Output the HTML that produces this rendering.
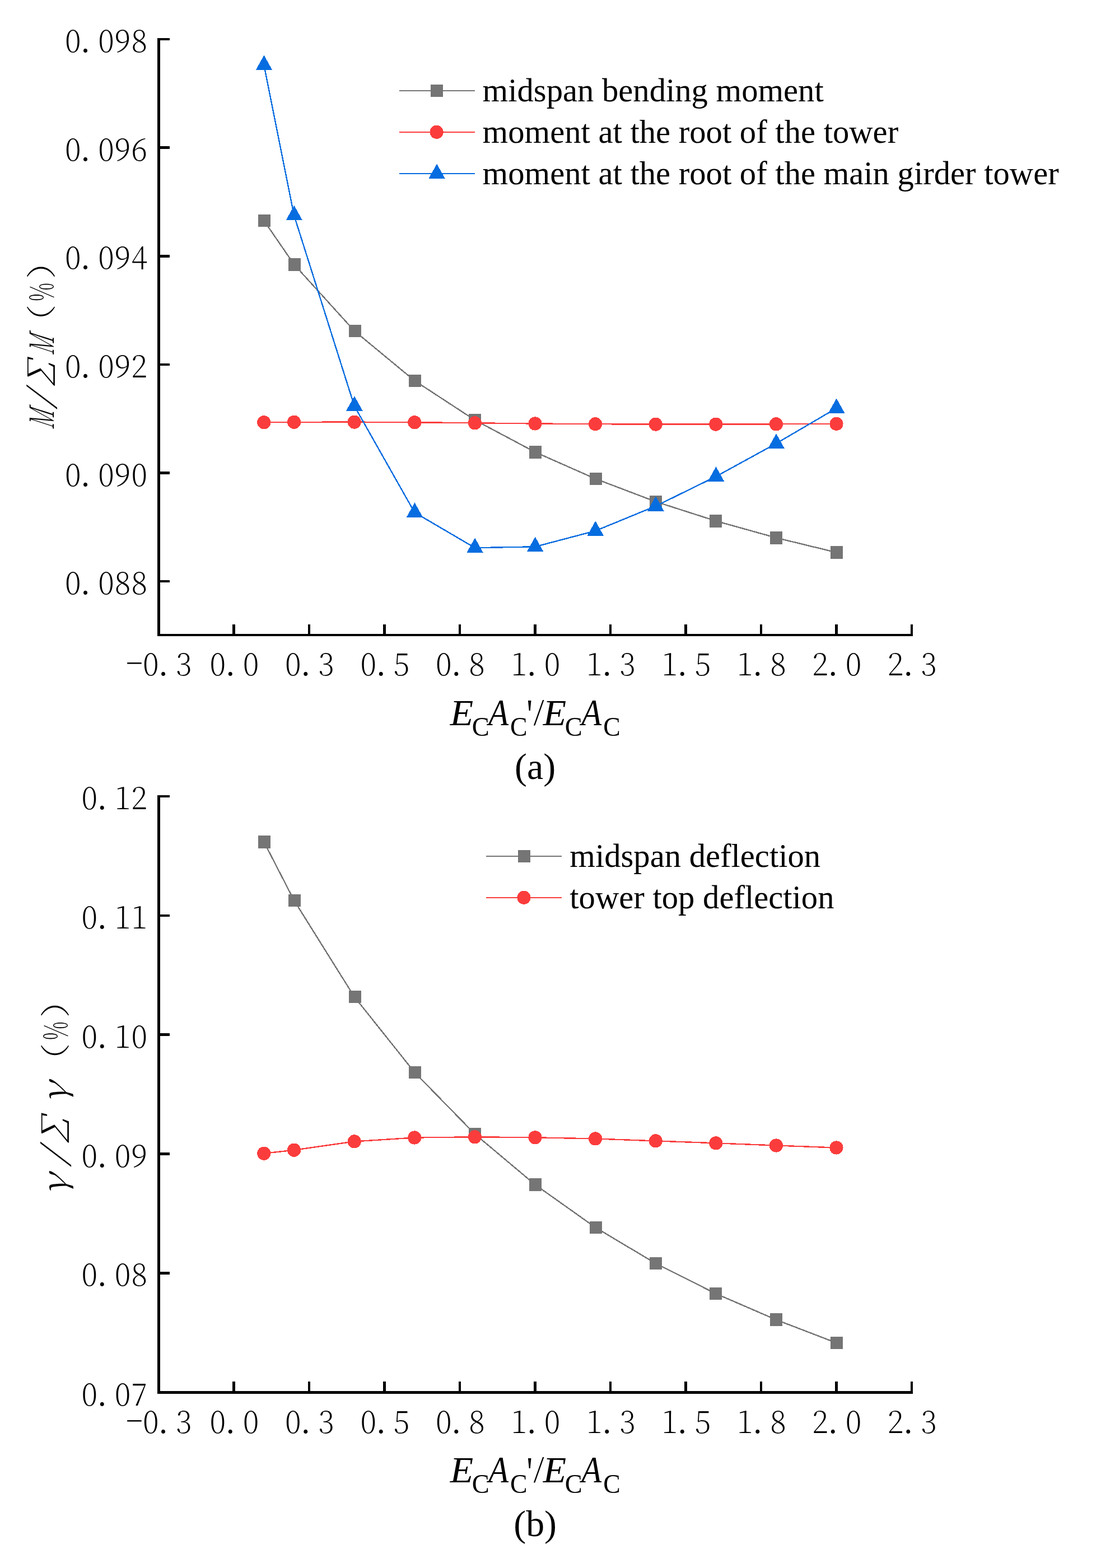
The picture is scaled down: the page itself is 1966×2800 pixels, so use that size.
<!DOCTYPE html>
<html lang="en">
<head>
<meta charset="utf-8">
<title>Figure</title>
<style>html,body{margin:0;padding:0;background:#fff;}svg{display:block;}text{white-space:pre;}</style>
</head>
<body>
<svg width="1966" height="2800" viewBox="0 0 1966 2800" shape-rendering="crispEdges">
<rect x="0" y="0" width="1966" height="2800" fill="#fff"/>
<g id="chart-a">
<rect x="281.2" y="68.1" width="5" height="1068" fill="#000"/>
<rect x="281.2" y="1131.5" width="1349" height="4.6" fill="#000"/>
<rect x="281.2" y="68.1" width="22" height="4.2" fill="#000"/>
<rect x="281.2" y="261.44" width="22" height="4.6" fill="#000"/>
<rect x="281.2" y="454.98" width="22" height="4.6" fill="#000"/>
<rect x="281.2" y="648.52" width="22" height="4.6" fill="#000"/>
<rect x="281.2" y="842.06" width="22" height="4.6" fill="#000"/>
<rect x="281.2" y="1035.6" width="22" height="4.6" fill="#000"/>
<rect x="415.2" y="1114.8" width="4.6" height="19" fill="#000"/>
<rect x="549.7" y="1114.8" width="4.6" height="19" fill="#000"/>
<rect x="684.2" y="1114.8" width="4.6" height="19" fill="#000"/>
<rect x="818.7" y="1114.8" width="4.6" height="19" fill="#000"/>
<rect x="953.2" y="1114.8" width="4.6" height="19" fill="#000"/>
<rect x="1087.7" y="1114.8" width="4.6" height="19" fill="#000"/>
<rect x="1222.2" y="1114.8" width="4.6" height="19" fill="#000"/>
<rect x="1356.7" y="1114.8" width="4.6" height="19" fill="#000"/>
<rect x="1491.2" y="1114.8" width="4.6" height="19" fill="#000"/>
<rect x="1625.7" y="1114.8" width="4.6" height="19" fill="#000"/>
<g font-family="'Noto Serif CJK SC', 'Liberation Serif', serif" font-weight="200" font-size="100" fill="#000" style="font-kerning:none">
<text aria-label="0.098" transform="translate(116.02,93.4) scale(0.5349,0.5636)" dx="0 -4.7 22.6 1.9 1.9">0<tspan font-size="121.9">.</tspan>098</text>
<text aria-label="0.096" transform="translate(116.02,286.94) scale(0.5349,0.5636)" dx="0 -4.7 22.6 1.9 1.9">0<tspan font-size="121.9">.</tspan>096</text>
<text aria-label="0.094" transform="translate(116.02,480.48) scale(0.5349,0.5636)" dx="0 -4.7 22.6 1.9 1.9">0<tspan font-size="121.9">.</tspan>094</text>
<text aria-label="0.092" transform="translate(116.02,674.02) scale(0.5349,0.5636)" dx="0 -4.7 22.6 1.9 1.9">0<tspan font-size="121.9">.</tspan>092</text>
<text aria-label="0.090" transform="translate(116.02,867.56) scale(0.5349,0.5636)" dx="0 -4.7 22.6 1.9 1.9">0<tspan font-size="121.9">.</tspan>090</text>
<text aria-label="0.088" transform="translate(116.02,1061.1) scale(0.5349,0.5636)" dx="0 -4.7 22.6 1.9 1.9">0<tspan font-size="121.9">.</tspan>088</text>
</g>
<g font-family="'Noto Serif CJK SC', 'Liberation Serif', serif" font-weight="200" font-size="100" fill="#000" style="font-kerning:none">
<text aria-label="-0.3" transform="translate(222.65,1206.3) scale(0.5349,0.5636)" dx="0 -4 -4.7 22.6" dy="-12.4 12.4 0 0"><tspan textLength="64.3" lengthAdjust="spacingAndGlyphs">-</tspan>0<tspan font-size="121.9">.</tspan>3</text>
<text aria-label="0.0" transform="translate(374.62,1206.3) scale(0.5349,0.5636)" dx="0 -4.7 22.6">0<tspan font-size="121.9">.</tspan>0</text>
<text aria-label="0.3" transform="translate(509.12,1206.3) scale(0.5349,0.5636)" dx="0 -4.7 22.6">0<tspan font-size="121.9">.</tspan>3</text>
<text aria-label="0.5" transform="translate(643.62,1206.3) scale(0.5349,0.5636)" dx="0 -4.7 22.6">0<tspan font-size="121.9">.</tspan>5</text>
<text aria-label="0.8" transform="translate(778.12,1206.3) scale(0.5349,0.5636)" dx="0 -4.7 22.6">0<tspan font-size="121.9">.</tspan>8</text>
<text aria-label="1.0" transform="translate(912.62,1206.3) scale(0.5349,0.5636)" dx="0 -4.7 22.6">1<tspan font-size="121.9">.</tspan>0</text>
<text aria-label="1.3" transform="translate(1047.12,1206.3) scale(0.5349,0.5636)" dx="0 -4.7 22.6">1<tspan font-size="121.9">.</tspan>3</text>
<text aria-label="1.5" transform="translate(1181.62,1206.3) scale(0.5349,0.5636)" dx="0 -4.7 22.6">1<tspan font-size="121.9">.</tspan>5</text>
<text aria-label="1.8" transform="translate(1316.12,1206.3) scale(0.5349,0.5636)" dx="0 -4.7 22.6">1<tspan font-size="121.9">.</tspan>8</text>
<text aria-label="2.0" transform="translate(1450.62,1206.3) scale(0.5349,0.5636)" dx="0 -4.7 22.6">2<tspan font-size="121.9">.</tspan>0</text>
<text aria-label="2.3" transform="translate(1585.12,1206.3) scale(0.5349,0.5636)" dx="0 -4.7 22.6">2<tspan font-size="121.9">.</tspan>3</text>
</g>
<polyline points="471.3,393.9 525.1,472.2 632.7,590.8 740.3,679.8 847.9,750.1 955.5,807.3 1063.1,854.9 1170.7,895.8 1278.3,930.3 1385.9,960.3 1493.5,986.5" fill="none" stroke="#757575" stroke-width="2.4" stroke-linejoin="round"/>
<rect x="461" y="382.6" width="22" height="22.6" fill="#757575"/>
<rect x="515" y="460.9" width="22" height="22.6" fill="#757575"/>
<rect x="623" y="579.5" width="22" height="22.6" fill="#757575"/>
<rect x="730" y="668.5" width="22" height="22.6" fill="#757575"/>
<rect x="837" y="738.8" width="22" height="22.6" fill="#757575"/>
<rect x="945" y="796" width="22" height="22.6" fill="#757575"/>
<rect x="1053" y="843.6" width="22" height="22.6" fill="#757575"/>
<rect x="1160" y="884.5" width="22" height="22.6" fill="#757575"/>
<rect x="1267" y="919" width="22" height="22.6" fill="#757575"/>
<rect x="1375" y="949" width="22" height="22.6" fill="#757575"/>
<rect x="1483" y="975.2" width="22" height="22.6" fill="#757575"/>
<polyline points="471.3,754.2 525.1,753.8 632.7,753.6 740.3,754.2 847.9,755.3 955.5,756.5 1063.1,757.2 1170.7,757.6 1278.3,757.6 1385.9,757.3 1493.5,756.8" fill="none" stroke="#FB3C3C" stroke-width="2.4" stroke-linejoin="round"/>
<circle cx="471.3" cy="754.2" r="12.1" fill="#FB3C3C"/>
<circle cx="525.1" cy="753.8" r="12.1" fill="#FB3C3C"/>
<circle cx="632.7" cy="753.6" r="12.1" fill="#FB3C3C"/>
<circle cx="740.3" cy="754.2" r="12.1" fill="#FB3C3C"/>
<circle cx="847.9" cy="755.3" r="12.1" fill="#FB3C3C"/>
<circle cx="955.5" cy="756.5" r="12.1" fill="#FB3C3C"/>
<circle cx="1063.1" cy="757.2" r="12.1" fill="#FB3C3C"/>
<circle cx="1170.7" cy="757.6" r="12.1" fill="#FB3C3C"/>
<circle cx="1278.3" cy="757.6" r="12.1" fill="#FB3C3C"/>
<circle cx="1385.9" cy="757.3" r="12.1" fill="#FB3C3C"/>
<circle cx="1493.5" cy="756.8" r="12.1" fill="#FB3C3C"/>
<polyline points="471.3,116.3 525.1,384.6 632.7,724.9 740.3,915.1 847.9,978.2 955.5,976.3 1063.1,948 1170.7,903.8 1278.3,851 1385.9,792 1493.5,729" fill="none" stroke="#066DE0" stroke-width="2.4" stroke-linejoin="round"/>
<polygon points="471.5,98.6 456.7,125 486.2,125" fill="#066DE0"/>
<polygon points="525.3,366.9 510.5,393.3 540,393.3" fill="#066DE0"/>
<polygon points="632.9,707.2 618.1,733.6 647.6,733.6" fill="#066DE0"/>
<polygon points="740.5,897.4 725.7,923.8 755.2,923.8" fill="#066DE0"/>
<polygon points="848.1,960.5 833.3,986.9 862.8,986.9" fill="#066DE0"/>
<polygon points="955.7,958.6 940.9,985 970.4,985" fill="#066DE0"/>
<polygon points="1063.3,930.3 1048.5,956.7 1078,956.7" fill="#066DE0"/>
<polygon points="1170.9,886.1 1156.1,912.5 1185.6,912.5" fill="#066DE0"/>
<polygon points="1278.5,833.3 1263.7,859.7 1293.2,859.7" fill="#066DE0"/>
<polygon points="1386.1,774.3 1371.3,800.7 1400.8,800.7" fill="#066DE0"/>
<polygon points="1493.7,711.3 1478.9,737.7 1508.4,737.7" fill="#066DE0"/>
<rect x="712.8" y="161" width="134.7" height="2" fill="#757575"/>
<rect x="769" y="150.7" width="22" height="22.6" fill="#757575"/>
<text x="861.6" y="181.4" font-family="'Liberation Serif', 'Noto Serif CJK SC', serif" font-size="58.65" fill="#000">midspan bending moment</text>
<rect x="712.8" y="234.8" width="134.7" height="2" fill="#FB3C3C"/>
<circle cx="779.6" cy="235.8" r="12.1" fill="#FB3C3C"/>
<text x="861.6" y="255.2" font-family="'Liberation Serif', 'Noto Serif CJK SC', serif" font-size="58.65" fill="#000">moment at the root of the tower</text>
<rect x="712.8" y="308.8" width="134.7" height="2" fill="#066DE0"/>
<polygon points="780.1,292.6 765.3,319 794.8,319" fill="#066DE0"/>
<text x="861.6" y="329.2" font-family="'Liberation Serif', 'Noto Serif CJK SC', serif" font-size="58.65" fill="#000">moment at the root of the main girder tower</text>
<g aria-label="M/∑M（%）">
<text transform="translate(96.2,766) rotate(-90) skewX(-18)" font-family="'Noto Serif CJK SC', 'Liberation Serif', serif" fill="#000"><tspan x="-1.29" y="0" font-size="59.79" font-weight="200" textLength="33.12" lengthAdjust="spacingAndGlyphs">M</tspan><tspan x="36.47" y="-4.51" font-size="58.61" font-weight="200" textLength="27.32" lengthAdjust="spacingAndGlyphs">/</tspan><tspan x="63.12" y="-6.08" font-size="55.01" font-weight="200" textLength="66.57" lengthAdjust="spacingAndGlyphs">∑</tspan><tspan x="131.21" y="0" font-size="59.79" font-weight="200" textLength="33.12" lengthAdjust="spacingAndGlyphs">M</tspan></text>
<text transform="translate(96.2,570) rotate(-90)" font-family="'Noto Serif CJK SC', 'Liberation Serif', serif" fill="#000"><tspan x="-36.28" y="-2.36" font-size="53.66" font-weight="200" textLength="62.88" lengthAdjust="spacingAndGlyphs">（</tspan><tspan x="32.09" y="-1.46" font-size="58.48" font-weight="200" textLength="33.06" lengthAdjust="spacingAndGlyphs">%</tspan><tspan x="71.84" y="-2.36" font-size="53.66" font-weight="200" textLength="63.15" lengthAdjust="spacingAndGlyphs">）</tspan></text>
</g>
<text aria-label="ECAC'/ECAC" fill="#000"><tspan x="803.75" y="1294.8" font-family="'Liberation Serif', 'Noto Serif CJK SC', serif" font-weight="400" font-style="italic" font-size="65.5" textLength="41.43" lengthAdjust="spacingAndGlyphs">E</tspan><tspan x="842.74" y="1313.72" font-family="'Liberation Serif', 'Noto Serif CJK SC', serif" font-weight="400" font-size="48.33" textLength="30.99" lengthAdjust="spacingAndGlyphs">C</tspan><tspan x="872.13" y="1294.8" font-family="'Liberation Serif', 'Noto Serif CJK SC', serif" font-weight="400" font-style="italic" font-size="66.82" textLength="35.83" lengthAdjust="spacingAndGlyphs">A</tspan><tspan x="911.07" y="1313.72" font-family="'Liberation Serif', 'Noto Serif CJK SC', serif" font-weight="400" font-size="48.33" textLength="30.52" lengthAdjust="spacingAndGlyphs">C</tspan><tspan x="940.44" y="1301.35" font-family="'Liberation Serif', 'Noto Serif CJK SC', serif" font-weight="400" font-size="77.02" textLength="10.43" lengthAdjust="spacingAndGlyphs">'</tspan><tspan x="954.89" y="1294.12" font-family="'Liberation Serif', 'Noto Serif CJK SC', serif" font-weight="400" font-style="italic" font-size="68.06" textLength="12.93" lengthAdjust="spacingAndGlyphs">/</tspan><tspan x="969.85" y="1294.8" font-family="'Liberation Serif', 'Noto Serif CJK SC', serif" font-weight="400" font-style="italic" font-size="65.5" textLength="41.43" lengthAdjust="spacingAndGlyphs">E</tspan><tspan x="1008.84" y="1313.72" font-family="'Liberation Serif', 'Noto Serif CJK SC', serif" font-weight="400" font-size="48.33" textLength="30.99" lengthAdjust="spacingAndGlyphs">C</tspan><tspan x="1038.23" y="1294.8" font-family="'Liberation Serif', 'Noto Serif CJK SC', serif" font-weight="400" font-style="italic" font-size="66.82" textLength="35.83" lengthAdjust="spacingAndGlyphs">A</tspan><tspan x="1077.17" y="1313.72" font-family="'Liberation Serif', 'Noto Serif CJK SC', serif" font-weight="400" font-size="48.33" textLength="30.52" lengthAdjust="spacingAndGlyphs">C</tspan></text>
<text x="955.6" y="1390.8" font-family="'Liberation Serif', 'Noto Serif CJK SC', serif" font-size="65.8" text-anchor="middle" fill="#000">(a)</text>
</g>
<g id="chart-b">
<rect x="281.2" y="1419.9" width="5" height="1069.4" fill="#000"/>
<rect x="281.2" y="2483.7" width="1349" height="5.6" fill="#000"/>
<rect x="281.2" y="1419.9" width="22" height="4.2" fill="#000"/>
<rect x="281.2" y="1632.5" width="22" height="4.6" fill="#000"/>
<rect x="281.2" y="1845.3" width="22" height="4.6" fill="#000"/>
<rect x="281.2" y="2058.1" width="22" height="4.6" fill="#000"/>
<rect x="281.2" y="2270.9" width="22" height="4.6" fill="#000"/>
<rect x="415.2" y="2467" width="4.6" height="19" fill="#000"/>
<rect x="549.7" y="2467" width="4.6" height="19" fill="#000"/>
<rect x="684.2" y="2467" width="4.6" height="19" fill="#000"/>
<rect x="818.7" y="2467" width="4.6" height="19" fill="#000"/>
<rect x="953.2" y="2467" width="4.6" height="19" fill="#000"/>
<rect x="1087.7" y="2467" width="4.6" height="19" fill="#000"/>
<rect x="1222.2" y="2467" width="4.6" height="19" fill="#000"/>
<rect x="1356.7" y="2467" width="4.6" height="19" fill="#000"/>
<rect x="1491.2" y="2467" width="4.6" height="19" fill="#000"/>
<rect x="1625.7" y="2467" width="4.6" height="19" fill="#000"/>
<g font-family="'Noto Serif CJK SC', 'Liberation Serif', serif" font-weight="200" font-size="100" fill="#000" style="font-kerning:none">
<text aria-label="0.12" transform="translate(145.62,1445.2) scale(0.5349,0.5636)" dx="0 -4.7 22.6 1.9">0<tspan font-size="121.9">.</tspan>12</text>
<text aria-label="0.11" transform="translate(145.62,1658) scale(0.5349,0.5636)" dx="0 -4.7 22.6 1.9">0<tspan font-size="121.9">.</tspan>11</text>
<text aria-label="0.10" transform="translate(145.62,1870.8) scale(0.5349,0.5636)" dx="0 -4.7 22.6 1.9">0<tspan font-size="121.9">.</tspan>10</text>
<text aria-label="0.09" transform="translate(145.62,2083.6) scale(0.5349,0.5636)" dx="0 -4.7 22.6 1.9">0<tspan font-size="121.9">.</tspan>09</text>
<text aria-label="0.08" transform="translate(145.62,2296.4) scale(0.5349,0.5636)" dx="0 -4.7 22.6 1.9">0<tspan font-size="121.9">.</tspan>08</text>
<text aria-label="0.07" transform="translate(145.62,2510.2) scale(0.5349,0.5636)" dx="0 -4.7 22.6 1.9">0<tspan font-size="121.9">.</tspan>07</text>
</g>
<g font-family="'Noto Serif CJK SC', 'Liberation Serif', serif" font-weight="200" font-size="100" fill="#000" style="font-kerning:none">
<text aria-label="-0.3" transform="translate(222.65,2558.5) scale(0.5349,0.5636)" dx="0 -4 -4.7 22.6" dy="-12.4 12.4 0 0"><tspan textLength="64.3" lengthAdjust="spacingAndGlyphs">-</tspan>0<tspan font-size="121.9">.</tspan>3</text>
<text aria-label="0.0" transform="translate(374.62,2558.5) scale(0.5349,0.5636)" dx="0 -4.7 22.6">0<tspan font-size="121.9">.</tspan>0</text>
<text aria-label="0.3" transform="translate(509.12,2558.5) scale(0.5349,0.5636)" dx="0 -4.7 22.6">0<tspan font-size="121.9">.</tspan>3</text>
<text aria-label="0.5" transform="translate(643.62,2558.5) scale(0.5349,0.5636)" dx="0 -4.7 22.6">0<tspan font-size="121.9">.</tspan>5</text>
<text aria-label="0.8" transform="translate(778.12,2558.5) scale(0.5349,0.5636)" dx="0 -4.7 22.6">0<tspan font-size="121.9">.</tspan>8</text>
<text aria-label="1.0" transform="translate(912.62,2558.5) scale(0.5349,0.5636)" dx="0 -4.7 22.6">1<tspan font-size="121.9">.</tspan>0</text>
<text aria-label="1.3" transform="translate(1047.12,2558.5) scale(0.5349,0.5636)" dx="0 -4.7 22.6">1<tspan font-size="121.9">.</tspan>3</text>
<text aria-label="1.5" transform="translate(1181.62,2558.5) scale(0.5349,0.5636)" dx="0 -4.7 22.6">1<tspan font-size="121.9">.</tspan>5</text>
<text aria-label="1.8" transform="translate(1316.12,2558.5) scale(0.5349,0.5636)" dx="0 -4.7 22.6">1<tspan font-size="121.9">.</tspan>8</text>
<text aria-label="2.0" transform="translate(1450.62,2558.5) scale(0.5349,0.5636)" dx="0 -4.7 22.6">2<tspan font-size="121.9">.</tspan>0</text>
<text aria-label="2.3" transform="translate(1585.12,2558.5) scale(0.5349,0.5636)" dx="0 -4.7 22.6">2<tspan font-size="121.9">.</tspan>3</text>
</g>
<polyline points="471.3,1503.3 525.1,1607.9 632.7,1779.9 740.3,1914.9 847.9,2025 955.5,2115.4 1063.1,2191.8 1170.7,2256.1 1278.3,2310.1 1385.9,2356.7 1493.5,2398" fill="none" stroke="#757575" stroke-width="2.4" stroke-linejoin="round"/>
<rect x="461" y="1492" width="22" height="22.6" fill="#757575"/>
<rect x="515" y="1596.6" width="22" height="22.6" fill="#757575"/>
<rect x="623" y="1768.6" width="22" height="22.6" fill="#757575"/>
<rect x="730" y="1903.6" width="22" height="22.6" fill="#757575"/>
<rect x="837" y="2013.7" width="22" height="22.6" fill="#757575"/>
<rect x="945" y="2104.1" width="22" height="22.6" fill="#757575"/>
<rect x="1053" y="2180.5" width="22" height="22.6" fill="#757575"/>
<rect x="1160" y="2244.8" width="22" height="22.6" fill="#757575"/>
<rect x="1267" y="2298.8" width="22" height="22.6" fill="#757575"/>
<rect x="1375" y="2345.4" width="22" height="22.6" fill="#757575"/>
<rect x="1483" y="2386.7" width="22" height="22.6" fill="#757575"/>
<polyline points="471.3,2059.7 525.1,2053.7 632.7,2038.4 740.3,2031.5 847.9,2030.3 955.5,2031.3 1063.1,2033.4 1170.7,2037.4 1278.3,2041.3 1385.9,2045.5 1493.5,2049.5" fill="none" stroke="#FB3C3C" stroke-width="2.4" stroke-linejoin="round"/>
<circle cx="471.3" cy="2059.7" r="12.1" fill="#FB3C3C"/>
<circle cx="525.1" cy="2053.7" r="12.1" fill="#FB3C3C"/>
<circle cx="632.7" cy="2038.4" r="12.1" fill="#FB3C3C"/>
<circle cx="740.3" cy="2031.5" r="12.1" fill="#FB3C3C"/>
<circle cx="847.9" cy="2030.3" r="12.1" fill="#FB3C3C"/>
<circle cx="955.5" cy="2031.3" r="12.1" fill="#FB3C3C"/>
<circle cx="1063.1" cy="2033.4" r="12.1" fill="#FB3C3C"/>
<circle cx="1170.7" cy="2037.4" r="12.1" fill="#FB3C3C"/>
<circle cx="1278.3" cy="2041.3" r="12.1" fill="#FB3C3C"/>
<circle cx="1385.9" cy="2045.5" r="12.1" fill="#FB3C3C"/>
<circle cx="1493.5" cy="2049.5" r="12.1" fill="#FB3C3C"/>
<rect x="868" y="1527.9" width="134.7" height="2" fill="#757575"/>
<rect x="925" y="1517.6" width="22" height="22.6" fill="#757575"/>
<text x="1017.3" y="1548.3" font-family="'Liberation Serif', 'Noto Serif CJK SC', serif" font-size="58.65" fill="#000">midspan deflection</text>
<rect x="868" y="1601.7" width="134.7" height="2" fill="#FB3C3C"/>
<circle cx="935.5" cy="1602.7" r="12.1" fill="#FB3C3C"/>
<text x="1017.3" y="1622.1" font-family="'Liberation Serif', 'Noto Serif CJK SC', serif" font-size="58.65" fill="#000">tower top deflection</text>
<g aria-label="γ/∑γ（%）">
<text transform="translate(121.2,2126) rotate(-90) skewX(-18)" font-family="'Noto Serif CJK SC', 'Liberation Serif', serif" fill="#000"><tspan x="-10.02" y="-2.09" font-size="59.93" font-weight="200" textLength="38.53" lengthAdjust="spacingAndGlyphs">γ</tspan><tspan x="43.93" y="-4.37" font-size="58.93" font-weight="200" textLength="27.93" lengthAdjust="spacingAndGlyphs">/</tspan><tspan x="70.68" y="-6.21" font-size="55.24" font-weight="200" textLength="69.16" lengthAdjust="spacingAndGlyphs">∑</tspan><tspan x="154.38" y="-2.09" font-size="59.93" font-weight="200" textLength="38.53" lengthAdjust="spacingAndGlyphs">γ</tspan></text>
<text transform="translate(121.2,1890) rotate(-90)" font-family="'Noto Serif CJK SC', 'Liberation Serif', serif" fill="#000"><tspan x="-35.58" y="-2.36" font-size="53.66" font-weight="200" textLength="62.88" lengthAdjust="spacingAndGlyphs">（</tspan><tspan x="32.79" y="-1.46" font-size="58.48" font-weight="200" textLength="33.06" lengthAdjust="spacingAndGlyphs">%</tspan><tspan x="72.54" y="-2.36" font-size="53.66" font-weight="200" textLength="63.15" lengthAdjust="spacingAndGlyphs">）</tspan></text>
</g>
<text aria-label="ECAC'/ECAC" fill="#000"><tspan x="803.75" y="2647" font-family="'Liberation Serif', 'Noto Serif CJK SC', serif" font-weight="400" font-style="italic" font-size="65.5" textLength="41.43" lengthAdjust="spacingAndGlyphs">E</tspan><tspan x="842.74" y="2665.92" font-family="'Liberation Serif', 'Noto Serif CJK SC', serif" font-weight="400" font-size="48.33" textLength="30.99" lengthAdjust="spacingAndGlyphs">C</tspan><tspan x="872.13" y="2647" font-family="'Liberation Serif', 'Noto Serif CJK SC', serif" font-weight="400" font-style="italic" font-size="66.82" textLength="35.83" lengthAdjust="spacingAndGlyphs">A</tspan><tspan x="911.07" y="2665.92" font-family="'Liberation Serif', 'Noto Serif CJK SC', serif" font-weight="400" font-size="48.33" textLength="30.52" lengthAdjust="spacingAndGlyphs">C</tspan><tspan x="940.44" y="2653.55" font-family="'Liberation Serif', 'Noto Serif CJK SC', serif" font-weight="400" font-size="77.02" textLength="10.43" lengthAdjust="spacingAndGlyphs">'</tspan><tspan x="954.89" y="2646.32" font-family="'Liberation Serif', 'Noto Serif CJK SC', serif" font-weight="400" font-style="italic" font-size="68.06" textLength="12.93" lengthAdjust="spacingAndGlyphs">/</tspan><tspan x="969.85" y="2647" font-family="'Liberation Serif', 'Noto Serif CJK SC', serif" font-weight="400" font-style="italic" font-size="65.5" textLength="41.43" lengthAdjust="spacingAndGlyphs">E</tspan><tspan x="1008.84" y="2665.92" font-family="'Liberation Serif', 'Noto Serif CJK SC', serif" font-weight="400" font-size="48.33" textLength="30.99" lengthAdjust="spacingAndGlyphs">C</tspan><tspan x="1038.23" y="2647" font-family="'Liberation Serif', 'Noto Serif CJK SC', serif" font-weight="400" font-style="italic" font-size="66.82" textLength="35.83" lengthAdjust="spacingAndGlyphs">A</tspan><tspan x="1077.17" y="2665.92" font-family="'Liberation Serif', 'Noto Serif CJK SC', serif" font-weight="400" font-size="48.33" textLength="30.52" lengthAdjust="spacingAndGlyphs">C</tspan></text>
<text x="955.6" y="2743.2" font-family="'Liberation Serif', 'Noto Serif CJK SC', serif" font-size="65.8" text-anchor="middle" fill="#000">(b)</text>
</g>
</svg>
</body>
</html>
